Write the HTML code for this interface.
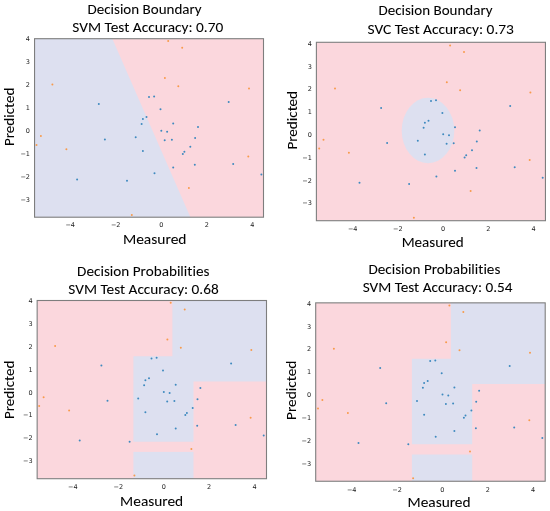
<!DOCTYPE html><html><head><meta charset="utf-8"><style>html,body{margin:0;padding:0;background:#fff;}svg{display:block}</style></head><body>
<svg width="550" height="511" viewBox="0 0 550 511">
<rect x="0" y="0" width="550" height="511" fill="#fff"/>
<clipPath id="c0"><rect x="34.55" y="38.7" width="228.95" height="178.5"/></clipPath>
<g clip-path="url(#c0)">
<rect x="34.55" y="38.7" width="228.95" height="178.5" fill="#fbd7dd"/>
<polygon points="32.55,36.7 111.43,36.7 191.31,219.2 32.55,219.2" fill="#dde0f0"/>
<circle cx="52.4" cy="84.6" r="1.0" fill="#f89b4c"/>
<circle cx="168.2" cy="41.1" r="1.0" fill="#f89b4c"/>
<circle cx="182.2" cy="47.8" r="1.0" fill="#f89b4c"/>
<circle cx="164.9" cy="78.1" r="1.0" fill="#f89b4c"/>
<circle cx="178.3" cy="86.2" r="1.0" fill="#f89b4c"/>
<circle cx="249.0" cy="88.6" r="1.0" fill="#f89b4c"/>
<circle cx="40.9" cy="136.1" r="1.0" fill="#f89b4c"/>
<circle cx="36.5" cy="144.9" r="1.0" fill="#f89b4c"/>
<circle cx="66.4" cy="149.3" r="1.0" fill="#f89b4c"/>
<circle cx="131.8" cy="214.9" r="1.0" fill="#f89b4c"/>
<circle cx="248.3" cy="156.6" r="1.0" fill="#f89b4c"/>
<circle cx="188.9" cy="188.0" r="1.0" fill="#f89b4c"/>
<circle cx="98.8" cy="104.1" r="1.0" fill="#3f8abf"/>
<circle cx="149.0" cy="97.0" r="1.0" fill="#3f8abf"/>
<circle cx="154.1" cy="96.4" r="1.0" fill="#3f8abf"/>
<circle cx="160.5" cy="109.3" r="1.0" fill="#3f8abf"/>
<circle cx="146.5" cy="117.0" r="1.0" fill="#3f8abf"/>
<circle cx="142.9" cy="119.0" r="1.0" fill="#3f8abf"/>
<circle cx="141.6" cy="124.0" r="1.0" fill="#3f8abf"/>
<circle cx="228.7" cy="102.1" r="1.0" fill="#3f8abf"/>
<circle cx="173.2" cy="123.6" r="1.0" fill="#3f8abf"/>
<circle cx="198.0" cy="126.9" r="1.0" fill="#3f8abf"/>
<circle cx="161.3" cy="130.7" r="1.0" fill="#3f8abf"/>
<circle cx="167.1" cy="131.7" r="1.0" fill="#3f8abf"/>
<circle cx="164.7" cy="140.3" r="1.0" fill="#3f8abf"/>
<circle cx="171.9" cy="139.8" r="1.0" fill="#3f8abf"/>
<circle cx="195.1" cy="138.0" r="1.0" fill="#3f8abf"/>
<circle cx="190.3" cy="146.8" r="1.0" fill="#3f8abf"/>
<circle cx="184.4" cy="151.8" r="1.0" fill="#3f8abf"/>
<circle cx="182.8" cy="154.0" r="1.0" fill="#3f8abf"/>
<circle cx="194.8" cy="164.7" r="1.0" fill="#3f8abf"/>
<circle cx="173.2" cy="167.5" r="1.0" fill="#3f8abf"/>
<circle cx="154.5" cy="173.2" r="1.0" fill="#3f8abf"/>
<circle cx="233.2" cy="164.0" r="1.0" fill="#3f8abf"/>
<circle cx="261.4" cy="174.5" r="1.0" fill="#3f8abf"/>
<circle cx="104.9" cy="139.6" r="1.0" fill="#3f8abf"/>
<circle cx="135.7" cy="137.3" r="1.0" fill="#3f8abf"/>
<circle cx="142.9" cy="151.1" r="1.0" fill="#3f8abf"/>
<circle cx="77.1" cy="179.6" r="1.0" fill="#3f8abf"/>
<circle cx="127.0" cy="180.8" r="1.0" fill="#3f8abf"/>
</g>
<rect x="34.55" y="38.7" width="228.95" height="178.5" fill="none" stroke="#7e7e7e" stroke-width="1.1"/>
<text x="70.2" y="227.4" font-family="'DejaVu Sans', sans-serif" font-size="6.5" fill="#222" text-anchor="middle">−4</text>
<text x="115.7" y="227.4" font-family="'DejaVu Sans', sans-serif" font-size="6.5" fill="#222" text-anchor="middle">−2</text>
<text x="161.2" y="227.4" font-family="'DejaVu Sans', sans-serif" font-size="6.5" fill="#222" text-anchor="middle">0</text>
<text x="206.7" y="227.4" font-family="'DejaVu Sans', sans-serif" font-size="6.5" fill="#222" text-anchor="middle">2</text>
<text x="252.2" y="227.4" font-family="'DejaVu Sans', sans-serif" font-size="6.5" fill="#222" text-anchor="middle">4</text>
<text x="30.0" y="202.3" font-family="'DejaVu Sans', sans-serif" font-size="6.5" fill="#222" text-anchor="end">−3</text>
<text x="30.0" y="179.3" font-family="'DejaVu Sans', sans-serif" font-size="6.5" fill="#222" text-anchor="end">−2</text>
<text x="30.0" y="156.3" font-family="'DejaVu Sans', sans-serif" font-size="6.5" fill="#222" text-anchor="end">−1</text>
<text x="30.0" y="133.3" font-family="'DejaVu Sans', sans-serif" font-size="6.5" fill="#222" text-anchor="end">0</text>
<text x="30.0" y="110.3" font-family="'DejaVu Sans', sans-serif" font-size="6.5" fill="#222" text-anchor="end">1</text>
<text x="30.0" y="87.3" font-family="'DejaVu Sans', sans-serif" font-size="6.5" fill="#222" text-anchor="end">2</text>
<text x="30.0" y="64.3" font-family="'DejaVu Sans', sans-serif" font-size="6.5" fill="#222" text-anchor="end">3</text>
<text x="30.0" y="41.3" font-family="'DejaVu Sans', sans-serif" font-size="6.5" fill="#222" text-anchor="end">4</text>
<clipPath id="c1"><rect x="316.4" y="42.3" width="229.05000000000007" height="178.39999999999998"/></clipPath>
<g clip-path="url(#c1)">
<rect x="316.4" y="42.3" width="229.05000000000007" height="178.39999999999998" fill="#fbd7dd"/>
<ellipse cx="428" cy="130.5" rx="26.3" ry="32.7" fill="#dde0f0"/>
<circle cx="335.0" cy="88.6" r="1.0" fill="#f89b4c"/>
<circle cx="450.1" cy="45.5" r="1.0" fill="#f89b4c"/>
<circle cx="464.0" cy="52.1" r="1.0" fill="#f89b4c"/>
<circle cx="446.8" cy="82.2" r="1.0" fill="#f89b4c"/>
<circle cx="460.1" cy="90.2" r="1.0" fill="#f89b4c"/>
<circle cx="530.4" cy="92.6" r="1.0" fill="#f89b4c"/>
<circle cx="323.5" cy="139.7" r="1.0" fill="#f89b4c"/>
<circle cx="319.2" cy="148.4" r="1.0" fill="#f89b4c"/>
<circle cx="348.9" cy="152.7" r="1.0" fill="#f89b4c"/>
<circle cx="413.9" cy="217.8" r="1.0" fill="#f89b4c"/>
<circle cx="529.7" cy="160.0" r="1.0" fill="#f89b4c"/>
<circle cx="470.6" cy="191.1" r="1.0" fill="#f89b4c"/>
<circle cx="381.1" cy="107.9" r="1.0" fill="#3f8abf"/>
<circle cx="431.0" cy="100.9" r="1.0" fill="#3f8abf"/>
<circle cx="436.0" cy="100.3" r="1.0" fill="#3f8abf"/>
<circle cx="442.4" cy="113.1" r="1.0" fill="#3f8abf"/>
<circle cx="428.5" cy="120.7" r="1.0" fill="#3f8abf"/>
<circle cx="424.9" cy="122.7" r="1.0" fill="#3f8abf"/>
<circle cx="423.6" cy="127.7" r="1.0" fill="#3f8abf"/>
<circle cx="510.2" cy="105.9" r="1.0" fill="#3f8abf"/>
<circle cx="455.0" cy="127.3" r="1.0" fill="#3f8abf"/>
<circle cx="479.7" cy="130.5" r="1.0" fill="#3f8abf"/>
<circle cx="443.2" cy="134.3" r="1.0" fill="#3f8abf"/>
<circle cx="449.0" cy="135.3" r="1.0" fill="#3f8abf"/>
<circle cx="446.6" cy="143.8" r="1.0" fill="#3f8abf"/>
<circle cx="453.7" cy="143.3" r="1.0" fill="#3f8abf"/>
<circle cx="476.8" cy="141.5" r="1.0" fill="#3f8abf"/>
<circle cx="472.0" cy="150.3" r="1.0" fill="#3f8abf"/>
<circle cx="466.2" cy="155.2" r="1.0" fill="#3f8abf"/>
<circle cx="464.6" cy="157.4" r="1.0" fill="#3f8abf"/>
<circle cx="476.5" cy="168.0" r="1.0" fill="#3f8abf"/>
<circle cx="455.0" cy="170.8" r="1.0" fill="#3f8abf"/>
<circle cx="436.4" cy="176.4" r="1.0" fill="#3f8abf"/>
<circle cx="514.7" cy="167.3" r="1.0" fill="#3f8abf"/>
<circle cx="542.7" cy="177.7" r="1.0" fill="#3f8abf"/>
<circle cx="387.1" cy="143.1" r="1.0" fill="#3f8abf"/>
<circle cx="417.8" cy="140.8" r="1.0" fill="#3f8abf"/>
<circle cx="424.9" cy="154.5" r="1.0" fill="#3f8abf"/>
<circle cx="359.5" cy="182.8" r="1.0" fill="#3f8abf"/>
<circle cx="409.1" cy="184.0" r="1.0" fill="#3f8abf"/>
</g>
<rect x="316.4" y="42.3" width="229.05000000000007" height="178.39999999999998" fill="none" stroke="#7e7e7e" stroke-width="1.1"/>
<text x="352.7" y="230.9" font-family="'DejaVu Sans', sans-serif" font-size="6.5" fill="#222" text-anchor="middle">−4</text>
<text x="397.9" y="230.9" font-family="'DejaVu Sans', sans-serif" font-size="6.5" fill="#222" text-anchor="middle">−2</text>
<text x="443.1" y="230.9" font-family="'DejaVu Sans', sans-serif" font-size="6.5" fill="#222" text-anchor="middle">0</text>
<text x="488.3" y="230.9" font-family="'DejaVu Sans', sans-serif" font-size="6.5" fill="#222" text-anchor="middle">2</text>
<text x="533.5" y="230.9" font-family="'DejaVu Sans', sans-serif" font-size="6.5" fill="#222" text-anchor="middle">4</text>
<text x="311.9" y="205.3" font-family="'DejaVu Sans', sans-serif" font-size="6.5" fill="#222" text-anchor="end">−3</text>
<text x="311.9" y="182.5" font-family="'DejaVu Sans', sans-serif" font-size="6.5" fill="#222" text-anchor="end">−2</text>
<text x="311.9" y="159.7" font-family="'DejaVu Sans', sans-serif" font-size="6.5" fill="#222" text-anchor="end">−1</text>
<text x="311.9" y="136.9" font-family="'DejaVu Sans', sans-serif" font-size="6.5" fill="#222" text-anchor="end">0</text>
<text x="311.9" y="114.1" font-family="'DejaVu Sans', sans-serif" font-size="6.5" fill="#222" text-anchor="end">1</text>
<text x="311.9" y="91.3" font-family="'DejaVu Sans', sans-serif" font-size="6.5" fill="#222" text-anchor="end">2</text>
<text x="311.9" y="68.5" font-family="'DejaVu Sans', sans-serif" font-size="6.5" fill="#222" text-anchor="end">3</text>
<text x="311.9" y="45.7" font-family="'DejaVu Sans', sans-serif" font-size="6.5" fill="#222" text-anchor="end">4</text>
<clipPath id="c2"><rect x="37.15" y="300.5" width="229.35" height="178.2"/></clipPath>
<g clip-path="url(#c2)">
<rect x="37.15" y="300.5" width="229.35" height="178.2" fill="#fbd7dd"/>
<polygon points="172.4,298.5 268.5,298.5 268.5,381.5 193.5,381.5 193.5,441.8 133.4,441.8 133.4,356.3 172.4,356.3" fill="#dde0f0"/>
<rect x="133.4" y="451.9" width="60.099999999999994" height="28.80000000000001" fill="#dde0f0"/>
<circle cx="55.1" cy="346.1" r="1.0" fill="#f89b4c"/>
<circle cx="170.7" cy="302.8" r="1.0" fill="#f89b4c"/>
<circle cx="184.7" cy="309.5" r="1.0" fill="#f89b4c"/>
<circle cx="167.4" cy="339.6" r="1.0" fill="#f89b4c"/>
<circle cx="180.8" cy="347.7" r="1.0" fill="#f89b4c"/>
<circle cx="251.3" cy="350.0" r="1.0" fill="#f89b4c"/>
<circle cx="43.6" cy="397.3" r="1.0" fill="#f89b4c"/>
<circle cx="39.2" cy="406.0" r="1.0" fill="#f89b4c"/>
<circle cx="69.1" cy="410.4" r="1.0" fill="#f89b4c"/>
<circle cx="134.4" cy="475.6" r="1.0" fill="#f89b4c"/>
<circle cx="250.6" cy="417.7" r="1.0" fill="#f89b4c"/>
<circle cx="191.4" cy="448.9" r="1.0" fill="#f89b4c"/>
<circle cx="101.4" cy="365.5" r="1.0" fill="#3f8abf"/>
<circle cx="151.5" cy="358.4" r="1.0" fill="#3f8abf"/>
<circle cx="156.6" cy="357.8" r="1.0" fill="#3f8abf"/>
<circle cx="163.0" cy="370.6" r="1.0" fill="#3f8abf"/>
<circle cx="149.0" cy="378.3" r="1.0" fill="#3f8abf"/>
<circle cx="145.4" cy="380.3" r="1.0" fill="#3f8abf"/>
<circle cx="144.1" cy="385.2" r="1.0" fill="#3f8abf"/>
<circle cx="231.1" cy="363.5" r="1.0" fill="#3f8abf"/>
<circle cx="175.7" cy="384.8" r="1.0" fill="#3f8abf"/>
<circle cx="200.4" cy="388.1" r="1.0" fill="#3f8abf"/>
<circle cx="163.8" cy="391.9" r="1.0" fill="#3f8abf"/>
<circle cx="169.6" cy="392.9" r="1.0" fill="#3f8abf"/>
<circle cx="167.2" cy="401.4" r="1.0" fill="#3f8abf"/>
<circle cx="174.4" cy="400.9" r="1.0" fill="#3f8abf"/>
<circle cx="197.5" cy="399.2" r="1.0" fill="#3f8abf"/>
<circle cx="192.7" cy="407.9" r="1.0" fill="#3f8abf"/>
<circle cx="186.9" cy="412.9" r="1.0" fill="#3f8abf"/>
<circle cx="185.3" cy="415.1" r="1.0" fill="#3f8abf"/>
<circle cx="197.2" cy="425.7" r="1.0" fill="#3f8abf"/>
<circle cx="175.7" cy="428.5" r="1.0" fill="#3f8abf"/>
<circle cx="157.0" cy="434.2" r="1.0" fill="#3f8abf"/>
<circle cx="235.6" cy="425.0" r="1.0" fill="#3f8abf"/>
<circle cx="263.7" cy="435.5" r="1.0" fill="#3f8abf"/>
<circle cx="107.5" cy="400.8" r="1.0" fill="#3f8abf"/>
<circle cx="138.2" cy="398.5" r="1.0" fill="#3f8abf"/>
<circle cx="145.4" cy="412.2" r="1.0" fill="#3f8abf"/>
<circle cx="79.7" cy="440.5" r="1.0" fill="#3f8abf"/>
<circle cx="129.6" cy="441.7" r="1.0" fill="#3f8abf"/>
</g>
<rect x="37.15" y="300.5" width="229.35" height="178.2" fill="none" stroke="#7e7e7e" stroke-width="1.1"/>
<text x="72.9" y="488.9" font-family="'DejaVu Sans', sans-serif" font-size="6.5" fill="#222" text-anchor="middle">−4</text>
<text x="118.3" y="488.9" font-family="'DejaVu Sans', sans-serif" font-size="6.5" fill="#222" text-anchor="middle">−2</text>
<text x="163.7" y="488.9" font-family="'DejaVu Sans', sans-serif" font-size="6.5" fill="#222" text-anchor="middle">0</text>
<text x="209.1" y="488.9" font-family="'DejaVu Sans', sans-serif" font-size="6.5" fill="#222" text-anchor="middle">2</text>
<text x="254.5" y="488.9" font-family="'DejaVu Sans', sans-serif" font-size="6.5" fill="#222" text-anchor="middle">4</text>
<text x="32.6" y="463.1" font-family="'DejaVu Sans', sans-serif" font-size="6.5" fill="#222" text-anchor="end">−3</text>
<text x="32.6" y="440.2" font-family="'DejaVu Sans', sans-serif" font-size="6.5" fill="#222" text-anchor="end">−2</text>
<text x="32.6" y="417.4" font-family="'DejaVu Sans', sans-serif" font-size="6.5" fill="#222" text-anchor="end">−1</text>
<text x="32.6" y="394.5" font-family="'DejaVu Sans', sans-serif" font-size="6.5" fill="#222" text-anchor="end">0</text>
<text x="32.6" y="371.6" font-family="'DejaVu Sans', sans-serif" font-size="6.5" fill="#222" text-anchor="end">1</text>
<text x="32.6" y="348.8" font-family="'DejaVu Sans', sans-serif" font-size="6.5" fill="#222" text-anchor="end">2</text>
<text x="32.6" y="325.9" font-family="'DejaVu Sans', sans-serif" font-size="6.5" fill="#222" text-anchor="end">3</text>
<text x="32.6" y="303.0" font-family="'DejaVu Sans', sans-serif" font-size="6.5" fill="#222" text-anchor="end">4</text>
<clipPath id="c3"><rect x="315.7" y="302.85" width="229.50000000000006" height="178.40999999999997"/></clipPath>
<g clip-path="url(#c3)">
<rect x="315.7" y="302.85" width="229.50000000000006" height="178.40999999999997" fill="#fbd7dd"/>
<polygon points="450.9,300.85 547.2,300.85 547.2,384.0 472.2,384.0 472.2,444.3 411.9,444.3 411.9,358.8 450.9,358.8" fill="#dde0f0"/>
<rect x="411.9" y="454.5" width="60.30000000000001" height="28.75999999999999" fill="#dde0f0"/>
<circle cx="333.9" cy="348.7" r="1.0" fill="#f89b4c"/>
<circle cx="449.4" cy="305.4" r="1.0" fill="#f89b4c"/>
<circle cx="463.3" cy="312.1" r="1.0" fill="#f89b4c"/>
<circle cx="446.1" cy="342.2" r="1.0" fill="#f89b4c"/>
<circle cx="459.5" cy="350.3" r="1.0" fill="#f89b4c"/>
<circle cx="530.0" cy="352.7" r="1.0" fill="#f89b4c"/>
<circle cx="322.4" cy="399.9" r="1.0" fill="#f89b4c"/>
<circle cx="318.0" cy="408.6" r="1.0" fill="#f89b4c"/>
<circle cx="347.9" cy="413.0" r="1.0" fill="#f89b4c"/>
<circle cx="413.1" cy="478.2" r="1.0" fill="#f89b4c"/>
<circle cx="529.3" cy="420.2" r="1.0" fill="#f89b4c"/>
<circle cx="470.0" cy="451.5" r="1.0" fill="#f89b4c"/>
<circle cx="380.2" cy="368.1" r="1.0" fill="#3f8abf"/>
<circle cx="430.2" cy="361.0" r="1.0" fill="#3f8abf"/>
<circle cx="435.3" cy="360.4" r="1.0" fill="#3f8abf"/>
<circle cx="441.7" cy="373.2" r="1.0" fill="#3f8abf"/>
<circle cx="427.7" cy="380.9" r="1.0" fill="#3f8abf"/>
<circle cx="424.1" cy="382.9" r="1.0" fill="#3f8abf"/>
<circle cx="422.9" cy="387.8" r="1.0" fill="#3f8abf"/>
<circle cx="509.7" cy="366.1" r="1.0" fill="#3f8abf"/>
<circle cx="454.4" cy="387.4" r="1.0" fill="#3f8abf"/>
<circle cx="479.1" cy="390.7" r="1.0" fill="#3f8abf"/>
<circle cx="442.5" cy="394.5" r="1.0" fill="#3f8abf"/>
<circle cx="448.3" cy="395.5" r="1.0" fill="#3f8abf"/>
<circle cx="445.9" cy="404.0" r="1.0" fill="#3f8abf"/>
<circle cx="453.1" cy="403.5" r="1.0" fill="#3f8abf"/>
<circle cx="476.2" cy="401.8" r="1.0" fill="#3f8abf"/>
<circle cx="471.4" cy="410.5" r="1.0" fill="#3f8abf"/>
<circle cx="465.5" cy="415.5" r="1.0" fill="#3f8abf"/>
<circle cx="463.9" cy="417.7" r="1.0" fill="#3f8abf"/>
<circle cx="475.9" cy="428.3" r="1.0" fill="#3f8abf"/>
<circle cx="454.4" cy="431.1" r="1.0" fill="#3f8abf"/>
<circle cx="435.7" cy="436.7" r="1.0" fill="#3f8abf"/>
<circle cx="514.2" cy="427.6" r="1.0" fill="#3f8abf"/>
<circle cx="542.3" cy="438.0" r="1.0" fill="#3f8abf"/>
<circle cx="386.2" cy="403.3" r="1.0" fill="#3f8abf"/>
<circle cx="417.0" cy="401.1" r="1.0" fill="#3f8abf"/>
<circle cx="424.1" cy="414.8" r="1.0" fill="#3f8abf"/>
<circle cx="358.5" cy="443.1" r="1.0" fill="#3f8abf"/>
<circle cx="408.3" cy="444.3" r="1.0" fill="#3f8abf"/>
</g>
<rect x="315.7" y="302.85" width="229.50000000000006" height="178.40999999999997" fill="none" stroke="#7e7e7e" stroke-width="1.1"/>
<text x="351.7" y="491.5" font-family="'DejaVu Sans', sans-serif" font-size="6.5" fill="#222" text-anchor="middle">−4</text>
<text x="397.0" y="491.5" font-family="'DejaVu Sans', sans-serif" font-size="6.5" fill="#222" text-anchor="middle">−2</text>
<text x="442.4" y="491.5" font-family="'DejaVu Sans', sans-serif" font-size="6.5" fill="#222" text-anchor="middle">0</text>
<text x="487.8" y="491.5" font-family="'DejaVu Sans', sans-serif" font-size="6.5" fill="#222" text-anchor="middle">2</text>
<text x="533.1" y="491.5" font-family="'DejaVu Sans', sans-serif" font-size="6.5" fill="#222" text-anchor="middle">4</text>
<text x="311.2" y="465.7" font-family="'DejaVu Sans', sans-serif" font-size="6.5" fill="#222" text-anchor="end">−3</text>
<text x="311.2" y="442.8" font-family="'DejaVu Sans', sans-serif" font-size="6.5" fill="#222" text-anchor="end">−2</text>
<text x="311.2" y="420.0" font-family="'DejaVu Sans', sans-serif" font-size="6.5" fill="#222" text-anchor="end">−1</text>
<text x="311.2" y="397.1" font-family="'DejaVu Sans', sans-serif" font-size="6.5" fill="#222" text-anchor="end">0</text>
<text x="311.2" y="374.2" font-family="'DejaVu Sans', sans-serif" font-size="6.5" fill="#222" text-anchor="end">1</text>
<text x="311.2" y="351.4" font-family="'DejaVu Sans', sans-serif" font-size="6.5" fill="#222" text-anchor="end">2</text>
<text x="311.2" y="328.5" font-family="'DejaVu Sans', sans-serif" font-size="6.5" fill="#222" text-anchor="end">3</text>
<text x="311.2" y="305.7" font-family="'DejaVu Sans', sans-serif" font-size="6.5" fill="#222" text-anchor="end">4</text>
<text x="87.53" y="14.00" textLength="114.11" lengthAdjust="spacingAndGlyphs" font-family="Carlito, 'Liberation Sans', sans-serif" font-size="14" fill="#000" stroke="#000" stroke-width="0.05" style="font-variant-ligatures:none">Decision Boundary</text>
<text x="72.35" y="32.20" textLength="150.96" lengthAdjust="spacingAndGlyphs" font-family="Carlito, 'Liberation Sans', sans-serif" font-size="14" fill="#000" stroke="#000" stroke-width="0.05" style="font-variant-ligatures:none">SVM Test Accuracy: 0.70</text>
<text x="378.53" y="15.30" textLength="114.01" lengthAdjust="spacingAndGlyphs" font-family="Carlito, 'Liberation Sans', sans-serif" font-size="14" fill="#000" stroke="#000" stroke-width="0.05" style="font-variant-ligatures:none">Decision Boundary</text>
<text x="367.45" y="33.60" textLength="146.50" lengthAdjust="spacingAndGlyphs" font-family="Carlito, 'Liberation Sans', sans-serif" font-size="14" fill="#000" stroke="#000" stroke-width="0.05" style="font-variant-ligatures:none">SVC Test Accuracy: 0.73</text>
<text x="77.12" y="275.90" textLength="132.31" lengthAdjust="spacingAndGlyphs" font-family="Carlito, 'Liberation Sans', sans-serif" font-size="14" fill="#000" stroke="#000" stroke-width="0.05" style="font-variant-ligatures:none">Decision Probabilities</text>
<text x="68.35" y="294.40" textLength="150.36" lengthAdjust="spacingAndGlyphs" font-family="Carlito, 'Liberation Sans', sans-serif" font-size="14" fill="#000" stroke="#000" stroke-width="0.05" style="font-variant-ligatures:none">SVM Test Accuracy: 0.68</text>
<text x="368.42" y="273.80" textLength="131.91" lengthAdjust="spacingAndGlyphs" font-family="Carlito, 'Liberation Sans', sans-serif" font-size="14" fill="#000" stroke="#000" stroke-width="0.05" style="font-variant-ligatures:none">Decision Probabilities</text>
<text x="362.66" y="292.40" textLength="149.88" lengthAdjust="spacingAndGlyphs" font-family="Carlito, 'Liberation Sans', sans-serif" font-size="14" fill="#000" stroke="#000" stroke-width="0.05" style="font-variant-ligatures:none">SVM Test Accuracy: 0.54</text>
<text x="122.92" y="244.10" textLength="63.59" lengthAdjust="spacingAndGlyphs" font-family="Carlito, 'Liberation Sans', sans-serif" font-size="14" fill="#000" stroke="#000" stroke-width="0.05" style="font-variant-ligatures:none">Measured</text>
<text x="401.65" y="247.20" textLength="62.03" lengthAdjust="spacingAndGlyphs" font-family="Carlito, 'Liberation Sans', sans-serif" font-size="14" fill="#000" stroke="#000" stroke-width="0.05" style="font-variant-ligatures:none">Measured</text>
<text x="120.13" y="506.30" textLength="63.07" lengthAdjust="spacingAndGlyphs" font-family="Carlito, 'Liberation Sans', sans-serif" font-size="14" fill="#000" stroke="#000" stroke-width="0.05" style="font-variant-ligatures:none">Measured</text>
<text x="407.53" y="507.20" textLength="63.07" lengthAdjust="spacingAndGlyphs" font-family="Carlito, 'Liberation Sans', sans-serif" font-size="14" fill="#000" stroke="#000" stroke-width="0.05" style="font-variant-ligatures:none">Measured</text>
<text transform="translate(14.20,145.98) rotate(-90)" x="0" y="0" textLength="58.35" lengthAdjust="spacingAndGlyphs" font-family="Carlito, 'Liberation Sans', sans-serif" font-size="14" fill="#000" stroke="#000" stroke-width="0.05" style="font-variant-ligatures:none">Predicted</text>
<text transform="translate(296.80,149.58) rotate(-90)" x="0" y="0" textLength="58.66" lengthAdjust="spacingAndGlyphs" font-family="Carlito, 'Liberation Sans', sans-serif" font-size="14" fill="#000" stroke="#000" stroke-width="0.05" style="font-variant-ligatures:none">Predicted</text>
<text transform="translate(14.20,418.98) rotate(-90)" x="0" y="0" textLength="58.35" lengthAdjust="spacingAndGlyphs" font-family="Carlito, 'Liberation Sans', sans-serif" font-size="14" fill="#000" stroke="#000" stroke-width="0.05" style="font-variant-ligatures:none">Predicted</text>
<text transform="translate(295.50,419.99) rotate(-90)" x="0" y="0" textLength="59.39" lengthAdjust="spacingAndGlyphs" font-family="Carlito, 'Liberation Sans', sans-serif" font-size="14" fill="#000" stroke="#000" stroke-width="0.05" style="font-variant-ligatures:none">Predicted</text>
</svg></body></html>
